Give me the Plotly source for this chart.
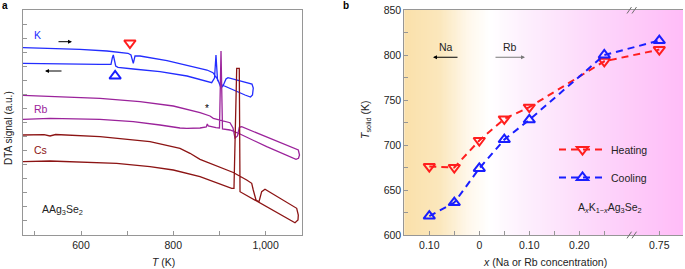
import plotly.graph_objects as go

W, H = 685, 269

# ---------------- Panel a: DTA curves (T in K, signal in a.u.) ----------------
K_heat_T = [474.3, 532.8, 597.8, 656.3, 701.8, 708.3, 713.3, 717.0, 727.8, 786.3, 829.7,
            873.0, 886.0, 896.9, 903.4, 907.7, 914.2, 918.5, 970.5, 973.3, 971.6, 967.3]
K_heat_sig = [187.3, 186.7, 185.7, 184.0, 181.7, 180.0, 171.7, 179.0, 179.0, 174.3, 169.7,
              165.0, 162.3, 155.0, 147.0, 149.0, 156.0, 157.3, 151.0, 147.0, 140.0, 138.0]
K_cool_T = [955.4, 918.5, 901.2, 895.8, 892.5, 889.3, 883.2, 829.7, 771.2, 713.3, 680.2,
            675.2, 672.2, 670.0, 667.8, 665.0, 641.2, 569.7, 474.3]
K_cool_sig = [140.0, 147.7, 151.0, 155.0, 180.0, 157.0, 152.3, 159.0, 163.3, 166.0, 167.7,
              169.0, 177.0, 180.0, 177.0, 170.7, 170.7, 171.0, 171.7]

Rb_heat_T = [474.3, 641.2, 727.8, 800.0, 857.9, 879.5, 886.7, 922.9, 929.4, 933.7, 939.1,
             943.0, 948.2, 1070.9, 1073.5, 1071.3, 1065.9]
Rb_heat_sig = [139.7, 136.7, 133.3, 129.0, 122.3, 119.0, 116.7, 112.3, 107.0, 97.0, 99.0,
               107.7, 108.3, 85.0, 80.0, 76.7, 75.7]
Rb_cool_T = [1002.4, 944.6, 922.9, 906.6, 903.4, 900.1, 892.5, 875.8, 873.7, 871.5, 857.9,
             829.0, 814.5, 771.2, 713.3, 641.2, 532.8, 474.3]
Rb_cool_sig = [88.3, 101.0, 105.0, 106.0, 184.0, 107.0, 107.3, 109.0, 111.0, 108.0, 107.0,
               106.7, 107.0, 110.0, 113.3, 115.7, 116.7, 115.7]

Cs_heat_T = [474.3, 520.0, 532.8, 545.0, 641.2, 749.5, 814.5, 836.2, 857.9, 930.0, 959.0,
             969.9, 973.3, 979.2, 985.7, 991.5, 998.7, 1067.4, 1070.9, 1070.2, 1063.7]
Cs_heat_sig = [100.0, 100.3, 99.0, 100.5, 98.3, 93.3, 86.7, 81.7, 75.7, 62.5, 55.0,
               51.7, 45.0, 35.0, 33.3, 43.3, 45.7, 26.7, 20.0, 15.0, 12.3]
Cs_cool_T = [984.2, 944.6, 943.0, 937.4, 931.5, 926.5, 857.9, 800.0, 749.5, 677.3, 532.8, 474.3]
Cs_cool_sig = [33.3, 43.3, 166.7, 166.7, 46.7, 46.7, 58.3, 65.0, 68.3, 71.7, 74.0, 73.3]

# event markers in panel a
heat_event_T, heat_event_sig = [706], [192]
cool_event_T, cool_event_sig = [674], [159]

a_xtick_vals = [600, 800, 1000]
a_xtick_text = ['600', '800', '1,000']
a_xminor_vals = [500, 700, 900]

# ---------------- Panel b: solidification temperature ----------------
dopant = ['Na', 'Na', '', 'Rb', 'Rb', 'Rb', 'Rb']
conc = [0.10, 0.05, 0.0, 0.05, 0.10, 0.25, 0.75]
T_heating = [676, 675, 705, 729, 742, 793, 806]
T_cooling = [621, 636, 674, 706, 728, 800, 816]

b_tick_conc = [0.10, 0.0, 0.10, 0.20, 0.75]
b_tick_dopant = ['Na', '', 'Rb', 'Rb', 'Rb']
b_tick_text = ['0.10', '0', '0.10', '0.20', '0.75']
b_minor_conc = [0.05, 0.05, 0.15, 0.25]
b_minor_dopant = ['Na', 'Rb', 'Rb', 'Rb']


def axis_pos(c, d):
    """broken axis: Na to the left (negative), Rb to the right; 0.75 placed after the break"""
    if d == 'Na':
        return -c
    if c > 0.3:
        return 0.36
    return c


xb = [axis_pos(c, d) for c, d in zip(conc, dopant)]
xb_ticks = [axis_pos(c, d) for c, d in zip(b_tick_conc, b_tick_dopant)]
xb_minor = [axis_pos(c, d) for c, d in zip(b_minor_conc, b_minor_dopant)]

FONT = "Liberation Sans, Arial, Helvetica, sans-serif"
AX = 'rgb(150,150,150)'
TXT = 'rgb(35,35,35)'

c_K = 'rgb(35,45,255)'
c_Rb = 'rgb(155,35,155)'
c_Cs = 'rgb(140,20,20)'
c_red = 'rgb(255,30,30)'
c_blue = 'rgb(25,30,255)'

fig = go.Figure()

for T1, s1, T2, s2, col in [(K_heat_T, K_heat_sig, K_cool_T, K_cool_sig, c_K),
                            (Rb_heat_T, Rb_heat_sig, Rb_cool_T, Rb_cool_sig, c_Rb),
                            (Cs_heat_T, Cs_heat_sig, Cs_cool_T, Cs_cool_sig, c_Cs)]:
    fig.add_trace(go.Scatter(x=T1 + T2, y=s1 + s2, mode='lines',
                             line=dict(color=col, width=1.3), showlegend=False,
                             xaxis='x', yaxis='y', hoverinfo='skip'))

fig.add_trace(go.Scatter(x=heat_event_T, y=heat_event_sig, mode='markers', showlegend=False,
                         marker=dict(symbol='triangle-down-open', size=10, color=c_red,
                                     line=dict(width=2, color=c_red)), xaxis='x', yaxis='y'))
fig.add_trace(go.Scatter(x=cool_event_T, y=cool_event_sig, mode='markers', showlegend=False,
                         marker=dict(symbol='triangle-up-open', size=10, color=c_blue,
                                     line=dict(width=2, color=c_blue)), xaxis='x', yaxis='y'))

# background gradient for panel b
xr_b = [-0.15, 0.4074]
n = 220
gx = [xr_b[0] + (xr_b[1] - xr_b[0]) * i / (n - 1) for i in range(n)]
stops = [(-0.15, 'rgb(250,224,170)'), (-0.08, 'rgb(251,231,188)'), (-0.02, 'rgb(255,248,236)'),
         (0.02, 'rgb(255,255,255)'), (0.10, 'rgb(253,238,253)'), (0.25, 'rgb(253,212,250)'),
         (0.4074, 'rgb(255,188,248)')]
cs = [[(v - xr_b[0]) / (xr_b[1] - xr_b[0]), c] for v, c in stops]
cs[0][0] = 0.0
cs[-1][0] = 1.0
fig.add_trace(go.Heatmap(x=gx, y=[560, 890], z=[gx, gx], colorscale=cs, showscale=False,
                         zmin=xr_b[0], zmax=xr_b[1], hoverinfo='skip',
                         xaxis='x2', yaxis='y2'))

dash = '7px,5px'
fig.add_trace(go.Scatter(x=xb, y=T_heating, mode='lines+markers', name='Heating',
                         line=dict(color=c_red, width=2, dash=dash),
                         marker=dict(symbol='triangle-down-open', size=10, color=c_red,
                                     line=dict(width=2, color=c_red)),
                         xaxis='x2', yaxis='y2', legendgroup='h'))
fig.add_trace(go.Scatter(x=xb, y=T_cooling, mode='lines+markers', name='Cooling',
                         line=dict(color=c_blue, width=2, dash=dash),
                         marker=dict(symbol='triangle-up-open', size=10, color=c_blue,
                                     line=dict(width=2, color=c_blue)),
                         xaxis='x2', yaxis='y2', legendgroup='c'))


def PX(px):
    return px / W


def PY(py):
    return (235 - py) / 225.0


ann = []


def text(px, py, s, size=10.5, color=TXT, xanchor='center', angle=0):
    ann.append(dict(x=PX(px), y=PY(py), xref='paper', yref='paper', text=s, showarrow=False,
                    xanchor=xanchor, yanchor='middle', textangle=angle,
                    font=dict(family=FONT, size=size, color=color)))


# panel labels
text(0, 5, '<b>a</b>', size=10, color='black', xanchor='left')
text(341, 5, '<b>b</b>', size=10, color='black', xanchor='left')

# panel a text
text(37, 35, 'K', color=c_K)
text(41, 109, 'Rb', color=c_Rb)
text(40, 150, 'Cs', color=c_Cs)
text(40, 210, 'AAg<sub>3</sub>Se<sub>2</sub>', xanchor='left')
text(207, 108, '*', size=10, color='black')
text(8, 128, 'DTA signal (a.u.)', size=10, angle=-90)
text(163, 262, '<i>T</i> (K)')

# panel a arrows
ann.append(dict(x=580.5, y=193.3, ax=548, ay=193.3, xref='x', yref='y', axref='x', ayref='y',
                text='', showarrow=True, arrowhead=2, arrowsize=0.8, arrowwidth=1, arrowcolor='black'))
ann.append(dict(x=522, y=164, ax=561, ay=164, xref='x', yref='y', axref='x', ayref='y',
                text='', showarrow=True, arrowhead=2, arrowsize=0.8, arrowwidth=1, arrowcolor='black'))

# panel b text
text(446, 47.5, 'Na')
text(510, 47.5, 'Rb')
text(610, 208, 'A<sub><i>x</i></sub>K<sub>1−<i>x</i></sub>Ag<sub>3</sub>Se<sub>2</sub>')
text(366, 120, '<i>T</i><sub>solid</sub> (K)', angle=-90)
text(545, 262, '<i>x</i> (Na or Rb concentration)')

ann.append(dict(x=-0.0926, y=797.5, ax=-0.0406, ay=797.5, xref='x2', yref='y2', axref='x2', ayref='y2',
                text='', showarrow=True, arrowhead=2, arrowsize=0.8, arrowwidth=1, arrowcolor='black'))
ann.append(dict(x=0.0914, y=797.5, ax=0.0294, ay=797.5, xref='x2', yref='y2', axref='x2', ayref='y2',
                text='', showarrow=True, arrowhead=2, arrowsize=0.8, arrowwidth=1,
                arrowcolor='rgb(120,120,120)'))

shapes = []
for y0, y1 in [(238.3, 231.7), (13.5, 7.0)]:
    for dx in (0, 5):
        shapes.append(dict(type='line', xref='paper', yref='paper',
                           x0=PX(627 + dx), x1=PX(631.5 + dx), y0=PY(y0), y1=PY(y1),
                           line=dict(color='rgb(110,110,110)', width=1)))

axis_common = dict(showgrid=False, zeroline=False, showline=True, linecolor=AX, linewidth=1,
                   ticks='inside', ticklen=4, tickcolor=AX, tickwidth=1,
                   tickfont=dict(family=FONT, size=10.5, color=TXT))

fig.update_layout(
    width=W, height=H,
    margin=dict(l=0, r=0, t=10, b=34),
    paper_bgcolor='white', plot_bgcolor='white',
    font=dict(family=FONT, size=10.5, color=TXT),
    xaxis=dict(domain=[23 / W, 302 / W], range=[474.3, 1078.9], tickmode='array',
               tickvals=a_xtick_vals, ticktext=a_xtick_text, mirror=True, anchor='y',
               minor=dict(tickmode='array', tickvals=a_xminor_vals, ticks='inside',
                          ticklen=4, tickcolor=AX),
               **axis_common),
    yaxis=dict(domain=[0, 1], range=[0, 225], tickmode='linear', tick0=14.7, dtick=14,
               showticklabels=False, mirror=True, anchor='x', **axis_common),
    xaxis2=dict(domain=[404.3 / W, 683 / W], range=xr_b, tickmode='array',
                tickvals=xb_ticks, ticktext=b_tick_text, mirror=True, anchor='y2',
                minor=dict(tickmode='array', tickvals=xb_minor, ticks='inside',
                           ticklen=4, tickcolor=AX),
                **axis_common),
    yaxis2=dict(domain=[0, 1], range=[600, 850], tickmode='linear', tick0=600, dtick=50,
                minor=dict(ticks='inside', ticklen=4, tickcolor=AX, dtick=25),
                anchor='x2', **axis_common),
    showlegend=True,
    legend=dict(x=PX(554), y=PY(135), xanchor='left', yanchor='top',
                bgcolor='rgba(0,0,0,0)', itemwidth=47, tracegroupgap=9,
                font=dict(family=FONT, size=10.5, color=TXT)),
    annotations=ann,
    shapes=shapes,
)

fig.write_html("out.html", config={'displayModeBar': False},
               post_script="document.body.style.margin='0';document.body.style.padding='0';"
                           "document.documentElement.style.overflow='hidden';")
